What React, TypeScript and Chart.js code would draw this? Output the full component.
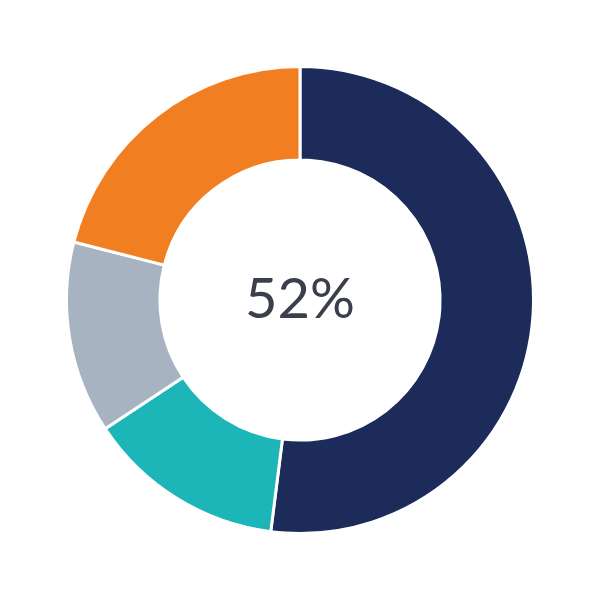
import { useEffect, useRef } from "react"
import { Chart, registerables } from "chart.js"

Chart.register(...registerables)

const labels = ["Navy", "Teal", "Gray", "Orange"]
const values = [52, 13.7, 13.3, 21]
const colors = ["#1c2b5a", "#1cb5b8", "#a8b3c1", "#f17f22"]
const centerLabel = "52%"

const centerText = {
  id: "centerText",
  afterDraw(chart: Chart) {
    const { ctx, chartArea } = chart
    const x = (chartArea.left + chartArea.right) / 2
    const y = (chartArea.top + chartArea.bottom) / 2
    ctx.save()
    ctx.font = "400 56px Lato, 'Open Sans', sans-serif"
    ctx.fillStyle = "#3a3f4b"
    ctx.textAlign = "center"
    ctx.textBaseline = "middle"
    ctx.fillText(centerLabel, x, y)
    ctx.restore()
  },
}

export default function App() {
  const chartRef = useRef<HTMLCanvasElement>(null)
  const chartInstance = useRef<Chart | null>(null)

  useEffect(() => {
    const canvas = chartRef.current
    if (!canvas) return
    const ctx = canvas.getContext("2d")
    if (!ctx) return

    if (chartInstance.current) chartInstance.current.destroy()

    chartInstance.current = new Chart(ctx, {
      type: "doughnut",
      data: {
        labels,
        datasets: [
          {
            data: values,
            backgroundColor: colors,
            borderColor: "#ffffff",
            borderWidth: 3,
          },
        ],
      },
      options: {
        responsive: false,
        animation: false,
        cutout: "60%",
        layout: { padding: 65 },
        plugins: {
          legend: { display: false },
          tooltip: { enabled: false },
        },
      },
      plugins: [centerText],
    })

    return () => {
      if (chartInstance.current) {
        chartInstance.current.destroy()
        chartInstance.current = null
      }
    }
  }, [])

  return (
    <div style={{ position: "fixed", left: 0, top: 0, width: 600, height: 600, background: "#fff" }}>
      <canvas ref={chartRef} width={600} height={600} />
    </div>
  )
}
